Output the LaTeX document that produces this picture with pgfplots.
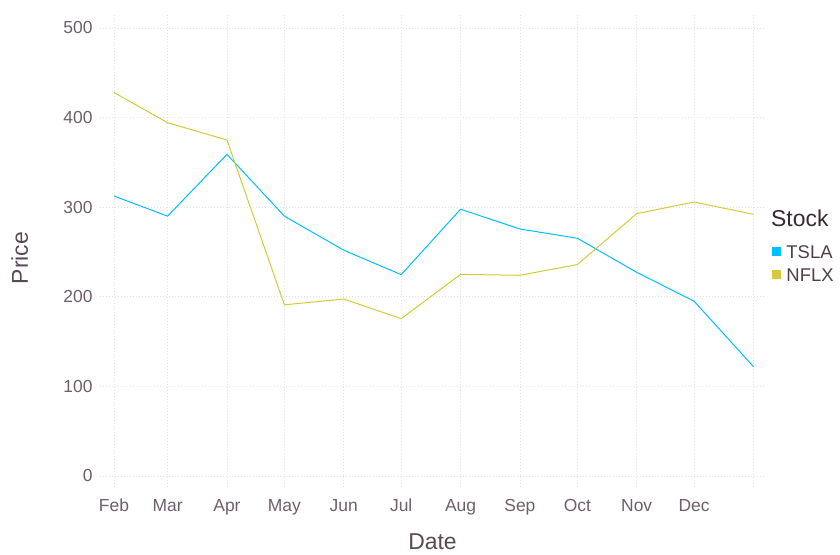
\documentclass[border=0pt]{standalone}
\usepackage{pgfplots}
\pgfplotsset{compat=1.18}
\usepackage{fontspec}
\setmainfont{Liberation Sans}
\definecolor{tsla}{HTML}{00BFFF}
\definecolor{nflx}{HTML}{D4CA3A}
\definecolor{ticktext}{HTML}{6C606B}
\definecolor{labeltext}{HTML}{564A55}
\definecolor{keytitle}{HTML}{362A35}
\definecolor{keylabel}{HTML}{4C404B}
\definecolor{gridc}{HTML}{E2E2EA}
\begin{document}
\begin{tikzpicture}
\useasboundingbox (-100bp,-68bp) rectangle (740bp,487bp);
\begin{axis}[
  at={(0,0)}, anchor=south west,
  scale only axis, width=665bp, height=472bp,
  xmin=-7.3, xmax=340, ymin=-12.3, ymax=514.5,
  axis line style={draw=none}, tick style={draw=none},
  major tick length=0pt,
  xtick={0,28,59,89,120,150,181,212,242,273,303,334},
  xticklabels={Feb,Mar,Apr,May,Jun,Jul,Aug,Sep,Oct,Nov,Dec,{}},
  ytick={0,100,200,300,400,500},
  /pgf/number format/assume math mode=true,
  ticklabel style={font=\fontsize{17.5}{20}\selectfont, text=ticktext},
  xticklabel style={yshift=-8bp, text height=13bp, text depth=4bp},
  yticklabel style={xshift=-4bp},
  grid=major,
  major grid style={color=gridc, line width=0.6bp, dash pattern=on 1.5bp off 1.5bp},
  xlabel={Date}, ylabel={Price},
  label style={font=\fontsize{23}{27}\selectfont, text=labeltext},
  xlabel style={at={(axis description cs:0.5,0)}, anchor=base, yshift=-62bp, inner sep=0pt, text depth=0pt},
  ylabel style={at={(axis description cs:-0.1083,0.485)}, anchor=base},
  clip=false,
  legend style={at={(rel axis cs:1.0105,0.5127)}, anchor=north west, draw=none, fill=none,
    inner sep=0pt, outer sep=0pt, font=\fontsize{18.5}{22}\selectfont, text=keylabel,
    row sep=10bp, column sep=0pt,
    nodes={inner sep=0pt, text height=13bp, text depth=0bp}},
  legend cell align=left,
  legend image code/.code={\fill (0bp,-4bp) rectangle (8bp,4bp); \path[draw=none,fill=none] (0bp,0bp) -- (14bp,0bp);},
]
\addplot[color=tsla, line width=1bp] coordinates {
  (0,312.5) (28,290) (59,359) (89,290) (120,252) (150,224.7)
  (181,297.7) (212,275.7) (242,265.3) (273,227.3) (303,195) (334,122)
};
\addlegendentry{TSLA}
\addplot[color=nflx, line width=1bp] coordinates {
  (0,428) (28,394.3) (59,375) (89,191) (120,197.5) (150,175.6)
  (181,225) (212,224) (242,235.9) (273,292.8) (303,305.8) (334,292)
};
\addlegendentry{NFLX}
\end{axis}
\node[anchor=base west, inner sep=0pt, text=keytitle, font=\fontsize{23}{27}\selectfont] at (671bp,260bp) {Stock};
\end{tikzpicture}
\end{document}
